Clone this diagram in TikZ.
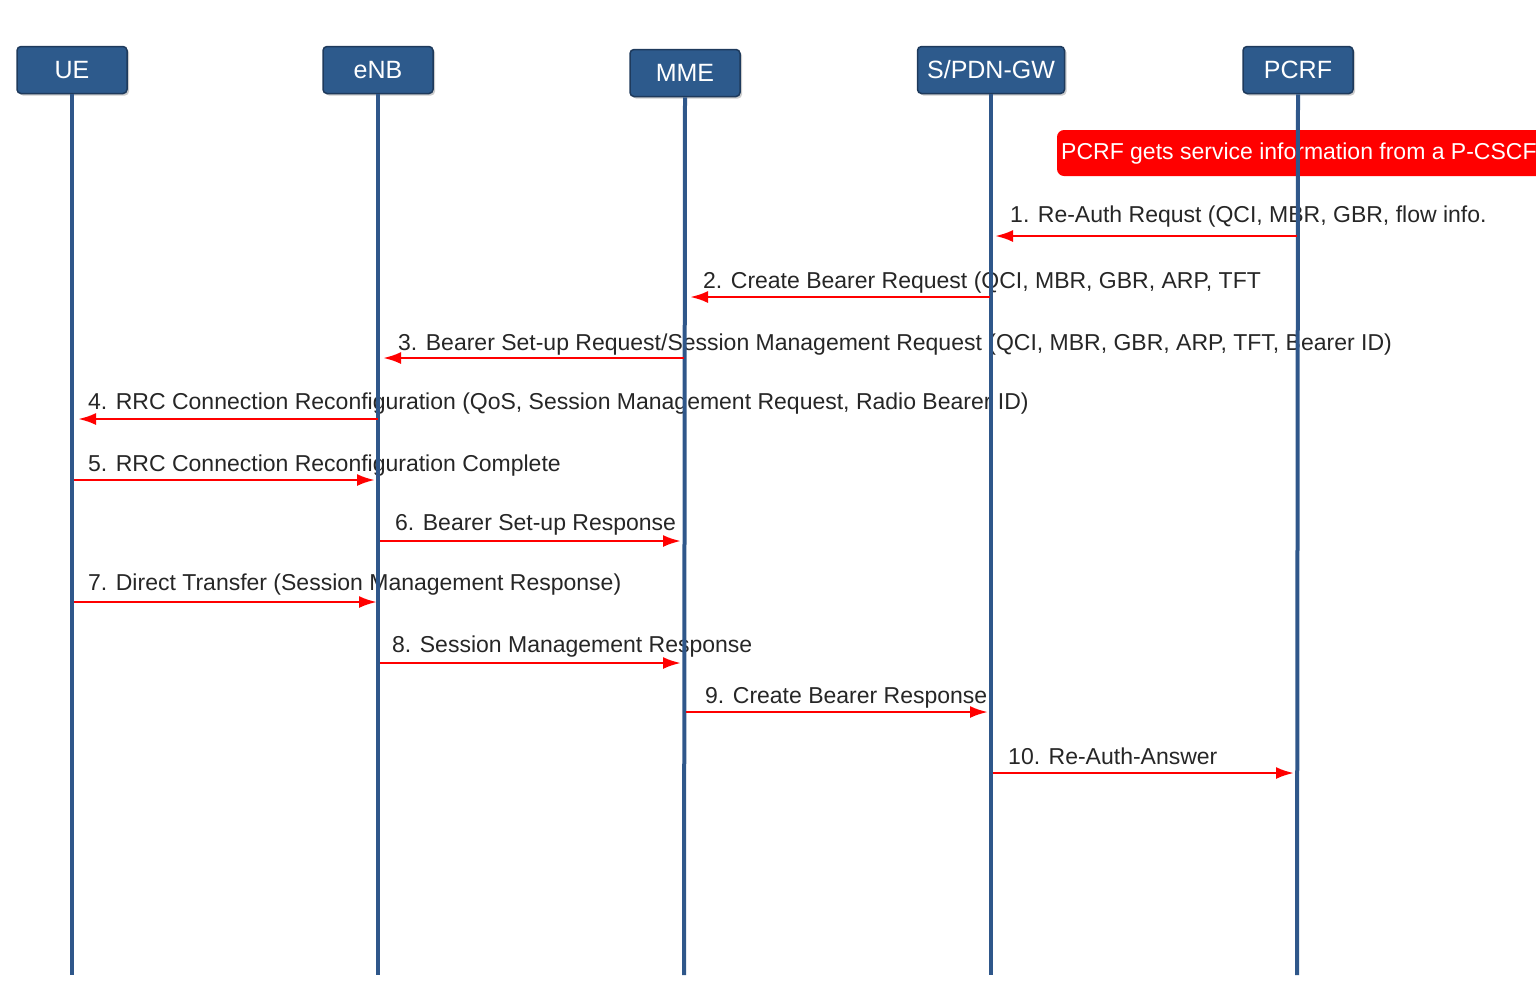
\documentclass[tikz,border=0pt]{standalone}
\usepackage{fontspec}
\setmainfont{Liberation Sans}
\usetikzlibrary{arrows.meta,shadows}
\definecolor{hb}{HTML}{2D5A8C}
\definecolor{hbd}{HTML}{1E3A5C}
\definecolor{lb}{HTML}{2F578A}
\begin{document}
\begin{tikzpicture}[x=1pt,y=-1pt,
  head/.style={draw=hbd,line width=1.5pt,fill=hb,rounded corners=4pt,text=white,font=\fontsize{25}{27}\selectfont,minimum height=47pt,inner xsep=4pt,drop shadow={shadow xshift=2pt,shadow yshift=-2pt,opacity=0.4}},
  life/.style={draw=lb,line width=4pt},
  msg/.style={draw=red,line width=2.6pt,-{Latex[length=18pt,width=12pt]}},
  lab/.style={anchor=base west,font=\fontsize{23}{25}\selectfont,text=black!85,inner sep=0pt}]
\useasboundingbox (0,0) rectangle (1536,994);
\node[head,minimum width=110pt] (UE) at (72,70) {UE};
\node[head,minimum width=110pt] (eNB) at (378,70) {eNB};
\node[head,minimum width=110pt] (MME) at (685,73) {MME};
\node[head,minimum width=147pt] (GW) at (991,70) {S/PDN-GW};
\node[head,minimum width=110pt] (PCRF) at (1298,70) {PCRF};
\foreach \n/\x in {UE/72,eNB/378,MME/684,GW/991,PCRF/1297}{\coordinate (\n e) at (\x,975);}
% red note
\fill[red,rounded corners=7pt] (1057,130) rectangle (1570,176);
\node[anchor=west,text=white,font=\fontsize{23}{25}\selectfont,inner sep=0pt] (note) at (1061,154) {PCRF gets service information from a P-CSCF};
% labels
\node[lab] (l1) at (1010,222) {1. Re-Auth Requst (QCI, MBR, GBR, flow info.};
\node[lab] (l2) at (703,288) {2. Create Bearer Request (QCI, MBR, GBR, ARP, TFT};
\node[lab] (l3) at (398,350) {3. Bearer Set-up Request/Session Management Request (QCI, MBR, GBR, ARP, TFT, Bearer ID)};
\node[lab] (l4) at (88,409) {4. RRC Connection Reconfiguration (QoS, Session Management Request, Radio Bearer ID)};
\node[lab] (l5) at (88,471) {5. RRC Connection Reconfiguration Complete};
\node[lab] (l6) at (395,530) {6. Bearer Set-up Response};
\node[lab] (l7) at (88,590) {7. Direct Transfer (Session Management Response)};
\node[lab] (l8) at (392,652) {8. Session Management Response};
\node[lab] (l9) at (705,703) {9. Create Bearer Response};
\node[lab] (l10) at (1008,764) {10. Re-Auth-Answer};
% lifelines
\foreach \n in {UE,eNB,MME,GW,PCRF}{\draw[life] (\n.south) -- (\n e);}
% messages
\coordinate (a1) at (1297,236); \coordinate (b1) at (995,236);
\coordinate (a2) at (990,297); \coordinate (b2) at (690,297);
\coordinate (a3) at (684,358); \coordinate (b3) at (383,358);
\coordinate (a4) at (378,419); \coordinate (b4) at (78,419);
\coordinate (a5) at (74,480); \coordinate (b5) at (375,480);
\coordinate (a6) at (380,541); \coordinate (b6) at (681,541);
\coordinate (a7) at (74,602); \coordinate (b7) at (377,602);
\coordinate (a8) at (380,663); \coordinate (b8) at (681,663);
\coordinate (a9) at (686,712); \coordinate (b9) at (988,712);
\coordinate (a10) at (993,773); \coordinate (b10) at (1294,773);
\foreach \i in {1,...,10}{\draw[msg] (a\i) -- (b\i);}
\end{tikzpicture}
\end{document}
